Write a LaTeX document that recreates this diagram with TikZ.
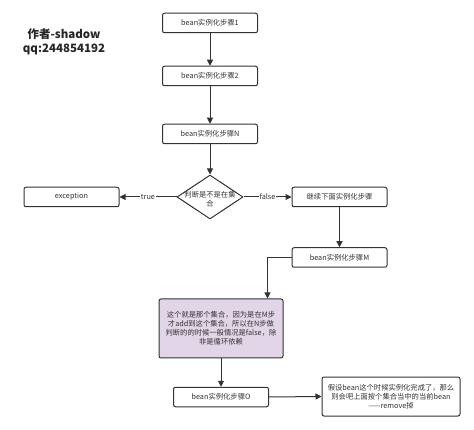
\documentclass[tikz,border=0pt]{standalone}
\usepackage{fontspec}
\setmainfont{Noto Sans CJK SC}
\usetikzlibrary{arrows.meta,shapes.geometric}
\definecolor{stroke}{HTML}{333333}
\definecolor{purp}{HTML}{E1D5E7}
\begin{document}
\begin{tikzpicture}[x=1pt,y=-1pt,
 box/.style={draw=stroke, line width=1pt, rounded corners=2pt, minimum width=95pt, minimum height=19.5pt, font=\fontsize{7.3}{9}\selectfont, inner sep=1pt, text=black!80, align=center},
 arr/.style={draw=stroke, line width=1pt, -{Triangle[length=6pt,width=6pt]}},
 lbl/.style={fill=white, inner sep=0.5pt, font=\fontsize{7.3}{8}\selectfont, text=black!80}]
\useasboundingbox (0,0) rectangle (474,430);
\node[font=\bfseries\fontsize{11.5}{14}\selectfont, align=center, text=black!85] (title) at (64,42) {作者-shadow\\qq:244854192};
\node[box] (b1) at (210,23) {bean实例化步骤1};
\node[box] (b2) at (210,76) {bean实例化步骤2};
\node[box] (bn) at (210,134) {bean实例化步骤N};
\node[diamond, draw=stroke, line width=1pt, minimum width=66pt, minimum height=44pt, inner sep=0pt] (d) at (210,197) {};
\node[font=\fontsize{7.3}{9.5}\selectfont, align=center, text=black!80] (dt) at (210,199) {判断是不是在集\\合};
\node[box] (ex) at (71.5,197) {exception};
\node[box] (cont) at (339.5,197) {继续下面实例化步骤};
\node[box] (m) at (339.5,257.5) {bean实例化步骤M};
\node[box, fill=purp, minimum width=124pt, minimum height=59pt] (p) at (221,328.5) {这个就是那个集合，因为是在M步\\才add到这个集合，所以在N步做\\判断的的时候一般情况是false，除\\非是循环依赖};
\node[box] (o) at (221,397) {bean实例化步骤O};
\node[box, minimum width=138pt, minimum height=39pt] (t) at (391,396.5) {假设bean这个时候实例化完成了，那么\\则会吧上面按个集合当中的当前bean\\——remove掉};
\draw[arr] (b1) -- (b2);
\draw[arr] (b2) -- (bn);
\draw[arr] (bn) -- (d.north);
\draw[arr] (d.west) -- node[lbl] {true} (ex.east);
\draw[arr] (d.east) -- node[lbl] {false} (cont.west);
\draw[arr] (cont) -- (m);
\draw[arr] (m.west) -| ([xshift=-16pt]p.north east);
\draw[arr] (p.south) -- (o.north);
\draw[arr] (o.east) -- (t.west);
\end{tikzpicture}
\end{document}
